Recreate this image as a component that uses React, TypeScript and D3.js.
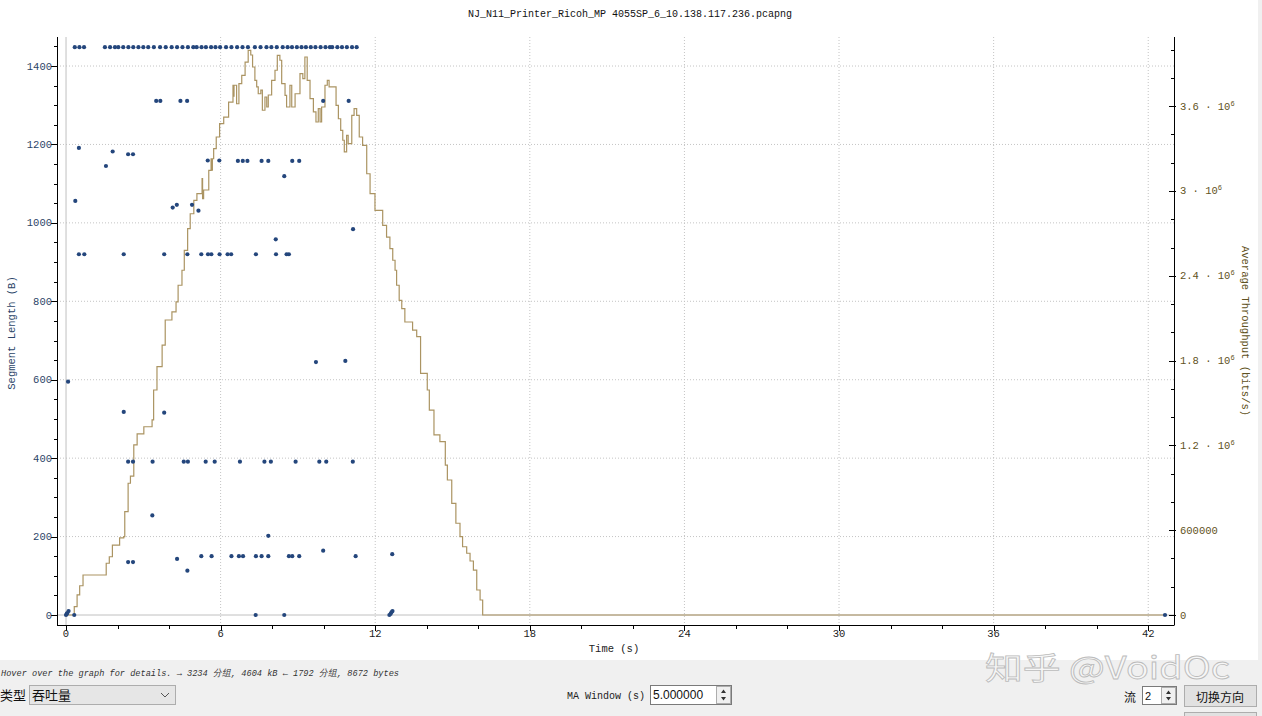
import React from "react";
import * as d3 from "d3";

const title = "NJ_N11_Printer_Ricoh_MP 4055SP_6_10.138.117.236.pcapng";
const xTicks = [0, 6, 12, 18, 24, 30, 36, 42];
const leftTicks = [0, 200, 400, 600, 800, 1000, 1200, 1400];
const rightTicks = [0, 600000, 1200000, 1800000, 2400000, 3000000, 3600000];
const rightTickMantissa = ["0", "600000", "1.2", "1.8", "2.4", "3", "3.6"];

// segment scatter (time s, length bytes)
const fullSegTimes = [0.34, 0.52, 0.70, 1.51, 1.71, 1.90, 2.03, 2.22, 2.42, 2.61, 2.81, 3.00, 3.19, 3.41, 3.65, 3.87, 4.10, 4.31, 4.52, 4.73, 4.94, 5.07, 5.26, 5.43, 5.63, 5.80, 5.98, 6.21, 6.42, 6.64, 6.85, 7.06, 7.33, 7.55, 7.78, 7.97, 8.18, 8.41, 8.60, 8.77, 8.96, 9.14, 9.31, 9.50, 9.68, 9.88, 10.07, 10.24, 10.33, 10.53, 10.71, 10.90, 11.10, 11.28];
const fullSegLen = 1448;
const row1311Times = [3.50, 3.66, 4.44, 4.70, 9.98, 10.97];
const row920Times = [0.50, 0.71, 2.24, 3.81, 4.71, 5.25, 5.51, 5.64, 5.96, 6.27, 6.41, 7.37, 8.15, 8.56, 8.65];
const row391Times = [2.41, 2.60, 3.36, 4.57, 4.73, 5.42, 5.77, 6.75, 7.70, 7.95, 8.91, 9.83, 10.10, 11.13];
const row150Times = [5.25, 5.65, 6.42, 6.71, 6.87, 7.37, 7.59, 7.85, 8.65, 8.78, 9.05, 11.24];
const otherTimes = [0.50, 1.81, 2.41, 2.60, 1.55, 5.50, 5.95, 6.67, 6.86, 7.04, 7.59, 7.85, 8.78, 9.05, 8.47, 0.36, 4.14, 4.30, 4.89, 5.14, 8.14, 11.14, 9.70, 10.84, 0.08, 2.24, 3.81, 3.35, 7.85, 9.98, 12.66, 4.31, 2.41, 2.60, 4.71, 0, 0.03, 0.05, 0.10, 0.32, 7.36, 8.47, 12.55, 12.60, 12.63, 12.67, 42.65];
const otherLens = [1191, 1182, 1175, 1175, 1145, 1159, 1159, 1158, 1158, 1158, 1158, 1158, 1158, 1158, 1119, 1056, 1039, 1046, 1046, 1031, 958, 984, 645, 648, 595, 518, 516, 254, 202, 164, 155, 143, 135, 135, 113, 0, 3, 5, 10, 0, 0, 0, 0, 3, 7, 10, 0];

// average throughput (time s, kbit/s)
const tpTime = [0, 0.32, 0.43, 0.53, 0.66, 1.56, 1.68, 1.80, 2.08, 2.24, 2.28, 2.41, 2.50, 2.63, 2.76, 3.02, 3.34, 3.40, 3.53, 3.73, 3.85, 4.11, 4.27, 4.35, 4.50, 4.59, 4.72, 4.82, 4.96, 5.08, 5.28, 5.30, 5.34, 5.54, 5.63, 5.65, 5.68, 5.73, 5.83, 5.96, 6.12, 6.31, 6.48, 6.50, 6.52, 6.62, 6.71, 6.82, 6.95, 7.07, 7.17, 7.24, 7.33, 7.40, 7.46, 7.56, 7.62, 7.72, 7.79, 7.85, 7.98, 8.11, 8.20, 8.30, 8.37, 8.50, 8.56, 8.69, 8.76, 8.89, 9.08, 9.19, 9.27, 9.36, 9.47, 9.60, 9.70, 9.79, 9.86, 9.92, 10.05, 10.14, 10.21, 10.48, 10.57, 10.66, 10.74, 10.80, 10.89, 10.95, 11.09, 11.18, 11.28, 11.38, 11.51, 11.67, 11.80, 11.99, 12.29, 12.44, 12.57, 12.68, 12.77, 12.83, 12.93, 13.03, 13.15, 13.45, 13.61, 13.76, 14.02, 14.10, 14.28, 14.51, 14.72, 14.80, 14.97, 15.13, 15.29, 15.39, 15.55, 15.68, 15.81, 15.94, 16.07, 16.17, 42.65];
const tpKbps = [0, 59, 142, 207, 283, 366, 412, 495, 545, 554, 731, 932, 983, 1203, 1281, 1332, 1380, 1592, 1757, 1910, 2087, 2144, 2215, 2333, 2439, 2580, 2733, 2839, 2934, 2981, 3087, 2945, 3007, 3146, 3228, 3148, 3228, 3299, 3382, 3476, 3523, 3629, 3748, 3670, 3748, 3617, 3759, 3818, 3912, 3995, 3962, 3877, 3783, 3736, 3688, 3714, 3571, 3665, 3594, 3679, 3783, 3854, 3960, 3925, 3759, 3677, 3594, 3748, 3594, 3688, 3830, 3795, 3948, 3783, 3653, 3559, 3488, 3582, 3488, 3594, 3748, 3783, 3736, 3606, 3511, 3429, 3359, 3276, 3394, 3335, 3535, 3582, 3535, 3382, 3323, 3122, 2981, 2863, 2757, 2674, 2592, 2510, 2439, 2333, 2226, 2167, 2073, 2016, 1969, 1710, 1592, 1450, 1274, 1226, 1061, 955, 790, 649, 554, 483, 437, 382, 318, 177, 106, 0, 0];

const W = 1262, H = 716;
const L = 57, R = 1174, T = 37, B = 625;
const MONO = "'Liberation Mono', 'DejaVu Sans Mono', monospace";
const CJK = "'Noto Sans CJK SC', 'Noto Sans', sans-serif";
const SEG_COLOR = "#24467c";
const TP_COLOR = "#ab9462";
const LEFT_TXT = "#2b4467";
const RIGHT_TXT = "#5f5222";

export default function App() {
  const x = d3.scaleLinear().domain([-0.35, 43.0]).range([L, R]);
  const yL = d3.scaleLinear().domain([-25.5, 1474]).range([B, T]);
  const yR = d3.scaleLinear().domain([-70750, 4089350]).range([B, T]);

  const points: [number, number][] = [];
  fullSegTimes.forEach((t) => points.push([t, fullSegLen]));
  row1311Times.forEach((t) => points.push([t, 1311]));
  row920Times.forEach((t) => points.push([t, 920]));
  row391Times.forEach((t) => points.push([t, 391]));
  row150Times.forEach((t) => points.push([t, 150]));
  otherTimes.forEach((t, i) => points.push([t, otherLens[i]]));

  const tpData = tpTime.map((t, i) => [t, tpKbps[i] * 1000] as [number, number]);
  const line = d3
    .line<[number, number]>()
    .x((d) => x(d[0]))
    .y((d) => yR(d[1]))
    .curve(d3.curveStepAfter);

  const xMinor = d3.range(0, 43, 2);
  const lMinor = d3.range(0, 1475, 50);
  const rMinor = d3.range(0, 4000001, 200000);

  return (
    <div style={{ position: "absolute", left: 0, top: 0, width: W, height: H }}>
      <svg width={W} height={H} style={{ display: "block" }}>
        <rect x={0} y={0} width={W} height={H} fill="#ffffff" />
        <text x={630} y={17} textAnchor="middle" fontFamily={MONO} fontSize={10} fill="#111">
          {title}
        </text>

        {/* grid */}
        {xTicks.filter((t) => t !== 0).map((t) => (
          <line key={"gx" + t} x1={x(t)} x2={x(t)} y1={T} y2={B} stroke="#c4c4c4" strokeDasharray="1,2" />
        ))}
        {leftTicks.filter((t) => t !== 0).map((t) => (
          <line key={"gy" + t} x1={L} x2={R} y1={yL(t)} y2={yL(t)} stroke="#c4c4c4" strokeDasharray="1,2" />
        ))}
        {/* zero lines */}
        <line x1={x(0)} x2={x(0)} y1={T} y2={B} stroke="#c0c0c0" strokeWidth={1} />
        <line x1={L} x2={R} y1={yL(0)} y2={yL(0)} stroke="#c0c0c0" strokeWidth={1} />

        {/* throughput line */}
        <path d={line(tpData) || ""} fill="none" stroke={TP_COLOR} strokeWidth={1.2} />

        {/* segments */}
        {points.map((p, i) => (
          <circle key={"p" + i} cx={x(p[0])} cy={yL(p[1])} r={2.1} fill={SEG_COLOR} />
        ))}

        {/* axes */}
        <line x1={L + 0.5} x2={L + 0.5} y1={T} y2={B + 0.5} stroke="#000" />
        <line x1={L} x2={R} y1={B + 0.5} y2={B + 0.5} stroke="#000" />
        <line x1={R + 0.5} x2={R + 0.5} y1={T} y2={B + 0.5} stroke="#000" />

        {lMinor.map((v) => (
          <line key={"lm" + v} x1={L - 3} x2={L} y1={Math.round(yL(v)) + 0.5} y2={Math.round(yL(v)) + 0.5} stroke="#000" />
        ))}
        {leftTicks.map((v) => (
          <g key={"lt" + v}>
            <line x1={L - 6} x2={L} y1={Math.round(yL(v)) + 0.5} y2={Math.round(yL(v)) + 0.5} stroke="#000" />
            <text x={L - 5} y={yL(v) + 3.5} textAnchor="end" fontFamily={MONO} fontSize={10.5} fill={LEFT_TXT}>
              {v}
            </text>
          </g>
        ))}
        {xMinor.map((v) => (
          <line key={"xm" + v} x1={Math.round(x(v)) + 0.5} x2={Math.round(x(v)) + 0.5} y1={B} y2={B + 4} stroke="#000" />
        ))}
        {xTicks.map((v) => (
          <g key={"xt" + v}>
            <line x1={Math.round(x(v)) + 0.5} x2={Math.round(x(v)) + 0.5} y1={B} y2={B + 6} stroke="#000" />
            <text x={x(v)} y={B + 12} textAnchor="middle" fontFamily={MONO} fontSize={10.5} fill="#222">
              {v}
            </text>
          </g>
        ))}
        {rMinor.map((v) => (
          <line key={"rm" + v} x1={R - 3} x2={R} y1={Math.round(yR(v)) + 0.5} y2={Math.round(yR(v)) + 0.5} stroke="#000" />
        ))}
        {rightTicks.map((v, i) => (
          <g key={"rt" + v}>
            <line x1={R - 5} x2={R + 2} y1={Math.round(yR(v)) + 0.5} y2={Math.round(yR(v)) + 0.5} stroke="#000" />
            <text x={R + 6} y={yR(v) + 3.5} fontFamily={MONO} fontSize={10.5} fill={RIGHT_TXT}>
              {i <= 1 ? rightTickMantissa[i] : rightTickMantissa[i] + " · 10"}
              {i > 1 ? (
                <tspan fontSize={7} dy={-4}>
                  6
                </tspan>
              ) : null}
            </text>
          </g>
        ))}

        <text x={614} y={652} textAnchor="middle" fontFamily={MONO} fontSize={10.5} fill="#222">
          Time (s)
        </text>
        <text transform={`translate(15,${(T + B) / 2 + 2}) rotate(-90)`} textAnchor="middle" fontFamily={MONO} fontSize={10.5} fill={LEFT_TXT}>
          Segment Length (B)
        </text>
        <text transform={`translate(1242,${(T + B) / 2}) rotate(90)`} textAnchor="middle" fontFamily={MONO} fontSize={10.5} fill={RIGHT_TXT}>
          Average Throughput (bits/s)
        </text>

        {/* status / controls area */}
        <rect x={0} y={660} width={W} height={56} fill="#f0f0f0" />
        <rect x={1258} y={0} width={4} height={H} fill="#f0f0f0" />
        <text x={1} y={676} fontFamily={MONO} fontStyle="italic" fontSize={9.5} fill="#333" textLength={398} lengthAdjust="spacingAndGlyphs">
          Hover over the graph for details. → 3234 分组, 4604 kB ← 1792 分组, 8672 bytes
        </text>

        {/* watermark (drawn before controls) */}
        <text x={985} y={679} fontFamily={CJK} fontSize={31} fill="#f7f7f7" stroke="#b9b9b9" strokeWidth={0.8} opacity={0.95} textLength={245} lengthAdjust="spacingAndGlyphs">
          知乎 @VoidOc
        </text>

        <text x={0} y={700} fontFamily={CJK} fontSize={13} fill="#111">类型</text>
        <rect x={29.5} y={685.5} width={146} height={19} fill="#e6e6e6" stroke="#adadad" />
        <text x={32} y={700} fontFamily={CJK} fontSize={13} fill="#111">吞吐量</text>
        <path d="M161,693 L165,697 L169,693" fill="none" stroke="#555" />

        <text x={567} y={699} fontFamily={MONO} fontSize={10} fill="#222">MA Window (s)</text>
        <rect x={650.5} y={685.5} width={81} height={19} fill="#fff" stroke="#7a7a7a" />
        <text x={653} y={699} fontFamily="'Liberation Sans', Arial, sans-serif" fontSize={12} fill="#111">5.000000</text>
        <rect x={716.5} y={686.5} width={14} height={17} fill="#f0f0f0" stroke="#adadad" />
        <path d="M721,693 L723.5,689.5 L726,693 Z M721,697 L723.5,700.5 L726,697 Z" fill="#333" />

        <text x={1124} y={702} fontFamily={CJK} fontSize={12} fill="#111">流</text>
        <rect x={1142.5} y={686.5} width={34} height={18} fill="#fff" stroke="#7a7a7a" />
        <text x={1145} y={700} fontFamily="'Liberation Sans', Arial, sans-serif" fontSize={11} fill="#111">2</text>
        <rect x={1161.5} y={687.5} width={14} height={16} fill="#f0f0f0" stroke="#adadad" />
        <path d="M1166,694 L1168.5,690.5 L1171,694 Z M1166,697 L1168.5,700.5 L1171,697 Z" fill="#333" />
        <rect x={1184.5} y={685.5} width={72} height={21} fill="#e1e1e1" stroke="#adadad" />
        <text x={1220} y={702} textAnchor="middle" fontFamily={CJK} fontSize={12} fill="#111">切换方向</text>
        <rect x={1184.5} y={712.5} width={72} height={10} fill="#e1e1e1" stroke="#adadad" />
      </svg>
    </div>
  );
}
